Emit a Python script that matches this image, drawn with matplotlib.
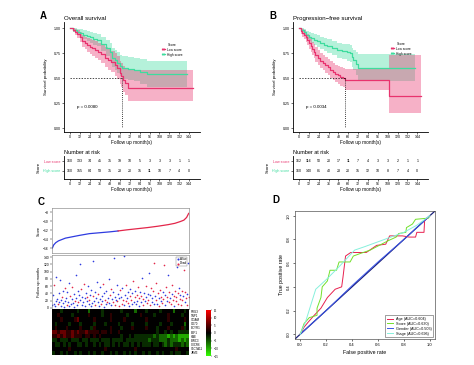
import numpy as np
import matplotlib
matplotlib.use("Agg")
import matplotlib.pyplot as plt
from matplotlib.colors import LinearSegmentedColormap
from matplotlib.patches import Patch
from matplotlib.lines import Line2D

plt.rcParams['font.family'] = ['Liberation Sans', 'DejaVu Sans']

# ---------------- data ----------------
months = [0, 12, 24, 36, 48, 60, 72, 84, 96, 108, 120, 132, 144]

# panel A - overall survival (step curves + 95% CI)
lowA_t = [0, 3, 6, 9, 12, 15, 18, 21, 24, 27, 30, 34, 38, 42, 46, 50, 54, 57, 60, 62, 64, 66, 70, 148]
lowA_s = [1.0, 0.98, 0.96, 0.94, 0.91, 0.87, 0.85, 0.83, 0.81, 0.80, 0.78, 0.76, 0.74, 0.70, 0.68, 0.66, 0.63, 0.60, 0.55, 0.52, 0.48, 0.45, 0.40, 0.40]
lowA_lo = [1.0, 0.96, 0.93, 0.90, 0.86, 0.81, 0.79, 0.76, 0.74, 0.72, 0.70, 0.68, 0.65, 0.61, 0.58, 0.56, 0.52, 0.49, 0.44, 0.41, 0.36, 0.33, 0.27, 0.27]
lowA_hi = [1.0, 1.0, 0.99, 0.98, 0.96, 0.93, 0.91, 0.90, 0.89, 0.88, 0.87, 0.85, 0.84, 0.81, 0.79, 0.77, 0.75, 0.72, 0.67, 0.65, 0.62, 0.60, 0.58, 0.58]
highA_t = [0, 4, 8, 12, 16, 20, 24, 28, 32, 38, 44, 48, 51, 54, 57, 60, 63, 70, 77, 85, 93, 141]
highA_s = [1.0, 0.98, 0.96, 0.95, 0.93, 0.92, 0.91, 0.89, 0.88, 0.84, 0.80, 0.76, 0.70, 0.68, 0.65, 0.62, 0.60, 0.59, 0.58, 0.56, 0.54, 0.54]
highA_lo = [1.0, 0.96, 0.93, 0.91, 0.89, 0.87, 0.85, 0.83, 0.82, 0.77, 0.72, 0.68, 0.61, 0.58, 0.55, 0.52, 0.49, 0.48, 0.47, 0.44, 0.41, 0.41]
highA_hi = [1.0, 1.0, 0.99, 0.99, 0.98, 0.97, 0.96, 0.95, 0.94, 0.91, 0.88, 0.85, 0.80, 0.78, 0.76, 0.73, 0.72, 0.71, 0.70, 0.69, 0.67, 0.67]
riskA_low = [160, 133, 74, 45, 35, 19, 10, 5, 3, 3, 3, 1, 1]
riskA_high = [160, 155, 84, 53, 35, 23, 20, 15, 11, 10, 7, 4, 0]

# panel B - progression-free survival
lowB_t = [0, 2, 4, 6, 8, 10, 12, 14, 16, 18, 20, 23, 26, 29, 32, 35, 38, 41, 44, 47, 50, 53, 56, 110, 149]
lowB_s = [1.0, 0.97, 0.95, 0.93, 0.91, 0.88, 0.85, 0.82, 0.79, 0.76, 0.73, 0.70, 0.67, 0.65, 0.63, 0.61, 0.58, 0.56, 0.54, 0.53, 0.51, 0.50, 0.48, 0.32, 0.32]
lowB_lo = [1.0, 0.94, 0.91, 0.89, 0.86, 0.83, 0.79, 0.76, 0.73, 0.70, 0.66, 0.63, 0.60, 0.58, 0.55, 0.53, 0.50, 0.48, 0.46, 0.44, 0.42, 0.41, 0.38, 0.15, 0.15]
lowB_hi = [1.0, 1.0, 0.99, 0.98, 0.96, 0.94, 0.91, 0.89, 0.86, 0.84, 0.81, 0.78, 0.75, 0.73, 0.71, 0.69, 0.67, 0.65, 0.63, 0.62, 0.61, 0.60, 0.59, 0.73, 0.73]
highB_t = [0, 3, 6, 9, 12, 15, 18, 22, 26, 30, 34, 40, 46, 52, 58, 62, 64, 66, 69, 72, 141]
highB_s = [1.0, 0.98, 0.96, 0.93, 0.91, 0.90, 0.88, 0.87, 0.85, 0.83, 0.82, 0.80, 0.78, 0.77, 0.76, 0.75, 0.71, 0.68, 0.64, 0.60, 0.60]
highB_lo = [1.0, 0.96, 0.93, 0.89, 0.87, 0.85, 0.83, 0.81, 0.79, 0.77, 0.75, 0.73, 0.70, 0.69, 0.67, 0.66, 0.61, 0.58, 0.53, 0.47, 0.47]
highB_hi = [1.0, 1.0, 0.99, 0.97, 0.96, 0.95, 0.94, 0.93, 0.91, 0.90, 0.89, 0.87, 0.85, 0.84, 0.84, 0.83, 0.80, 0.78, 0.76, 0.74, 0.74]
riskB_low = [162, 116, 50, 20, 17, 11, 7, 4, 3, 3, 2, 1, 1]
riskB_high = [160, 140, 81, 40, 23, 20, 15, 12, 10, 8, 7, 4, 0]

# panel C - risk score curve (rank position -> score)
score_pos_low = [1, 3, 6, 10, 15, 20, 30, 40, 55, 70, 85, 97]
score_val_low = [-16.0, -15.3, -14.8, -14.4, -14.1, -13.8, -13.5, -13.2, -12.8, -12.6, -12.4, -12.2]
score_pos_high = [97, 110, 125, 140, 155, 170, 180, 188, 193, 197, 200]
score_val_high = [-12.2, -11.95, -11.7, -11.45, -11.15, -10.8, -10.5, -10.1, -9.8, -9.2, -8.3]

# panel C - follow-up time per patient and status (a = alive, d = dead)
follow_up = [
    8, 35, 12, 62, 4, 18, 85, 25, 10, 40, 15, 78, 22, 6, 30, 48, 14, 3, 55, 20,
    27, 9, 44, 16, 70, 5, 33, 11, 24, 58, 13, 38, 2, 19, 90, 28, 7, 46, 17, 36,
    120, 21, 52, 8, 31, 15, 66, 26, 4, 42, 18, 29, 60, 11, 23, 37, 6, 50, 14, 32,
    130, 19, 45, 9, 27, 72, 16, 39, 5, 24, 57, 12, 34, 20, 65, 3, 41, 22, 10, 47,
    17, 28, 80, 13, 35, 7, 53, 25, 43, 15, 138, 30, 9, 21, 62, 18, 38, 26, 4, 49,
    31, 12, 56, 23, 8, 142, 36, 19, 64, 27, 14, 44, 6, 33, 52, 22, 10, 40, 75, 16,
    29, 48, 11, 37, 20, 58, 5, 26, 45, 15, 34, 83, 24, 9, 42, 18, 61, 30, 13, 39,
    22, 97, 7, 35, 54, 17, 28, 46, 12, 125, 33, 21, 68, 10, 40, 26, 5, 50, 19, 31,
    14, 43, 24, 118, 36, 8, 59, 20, 30, 92, 16, 45, 27, 11, 38, 63, 22, 6, 34, 47,
    18, 29, 113, 41, 12, 55, 25, 35, 9, 48, 21, 32, 105, 15, 44, 27, 38, 7, 124, 30,
]
status = ("aaadaaaadaaaaadaaada" "adaaaadaadaaadaaaada" "aadaaadaaaadaadaaaad"
          "aaadaaadaaadaadaadaa" "daaadadaadaadaadaadd" "adadaaaddadaadadaada"
          "daadadadaadaddaadada" "dadadaadadaddadaddad" "daddaadadaddadaddadd"
          "ddaddadadddadaddadad")

# panel C - heatmap, each digit is a level
genes = ["PRG3", "TNP1", "ITGAM", "CD70", "BCYR1", "LEF1", "HAE", "BIRC3", "CXCR6", "SLC7A11", "JAM3"]
heat_levels = [-15, -10, -6, -2.5, 0, 2.5, 6, 10, 15]
heat_rows = [
    "4443444443 4442444434 4444434444 2444344443 4444244434",
    "4454444344 4445444434 4544444344 4454444344 4454444344",
    "4445444456 4444454444 4544445444 4444544444 4454444454",
    "4344443444 3444434443 4444344443 4444344443 4443444424",
    "4544454444 5444354444 4544434445 4444544434 4454444534",
    "6656655656 5565555455 4544544444 4444444434 4343443333",
    "5565655655 5455454544 4444434434 3333333232 2212121111",
    "3343334333 4334333433 3433334333 3333323332 2232221212",
    "4334343443 3434434343 3434343343 4343334334 3232333232",
    "4444445444 4444444445 4444444444 5444444444 4444454444",
    "3443434434 3443434434 4343443434 3443434434 3443433443",
]

# panel D - ROC curves
age_fpr = [0, 0.03, 0.06, 0.10, 0.16, 0.21, 0.27, 0.32, 0.33, 0.35, 0.39, 0.51, 0.59, 0.66, 0.69, 0.79, 0.84, 0.89, 0.90, 0.955, 0.96, 1.0]
age_tpr = [0, 0.06, 0.10, 0.15, 0.22, 0.31, 0.38, 0.40, 0.48, 0.66, 0.69, 0.69, 0.75, 0.76, 0.83, 0.83, 0.82, 0.82, 0.86, 0.86, 0.96, 1.0]
score_fpr = [0, 0.03, 0.07, 0.13, 0.13, 0.16, 0.17, 0.21, 0.23, 0.28, 0.30, 0.385, 0.41, 0.46, 0.54, 0.61, 0.68, 0.74, 0.76, 0.815, 0.82, 0.866, 0.89, 0.99, 1.0]
score_tpr = [0, 0.09, 0.14, 0.16, 0.22, 0.31, 0.40, 0.45, 0.54, 0.54, 0.61, 0.61, 0.66, 0.68, 0.71, 0.75, 0.79, 0.82, 0.85, 0.86, 0.90, 0.93, 0.97, 0.98, 1.0]
gender_fpr = [0, 0.2, 0.4, 0.6, 0.8, 1.0]
gender_tpr = [0, 0.2, 0.41, 0.61, 0.8, 1.0]
stage_fpr = [0, 0.04, 0.12, 0.20, 0.30, 0.42, 0.50, 0.60, 0.70, 0.80, 0.90, 1.0]
stage_tpr = [0, 0.10, 0.38, 0.46, 0.57, 0.71, 0.74, 0.78, 0.82, 0.86, 0.92, 1.0]

# ---------------- figure ----------------
W, H = 474, 365
fig = plt.figure(figsize=(W / 100, H / 100), dpi=100)
fig.patch.set_facecolor("white")

LOW = "#E8336E"
HIGH = "#3EDC9E"
TK = 2.6


def axpx(x0, y0, x1, y1):
    return fig.add_axes([x0 / W, 1 - y1 / H, (x1 - x0) / W, (y1 - y0) / H])


def classic(ax):
    for s in ["top", "right"]:
        ax.spines[s].set_visible(False)
    for s in ["left", "bottom"]:
        ax.spines[s].set_linewidth(0.6)
    ax.tick_params(labelsize=TK, length=1.5, width=0.4, pad=1)


def km_panel(x0, x1, letter, title, low, high, med, ptxt, risk_low, risk_high, leg_xy):
    ax = axpx(x0, 22, x1, 132)
    for (t, s, lo, hi), col in [(high, HIGH), (low, LOW)]:
        ax.fill_between(t, lo, hi, step="post", color=col, alpha=0.38, lw=0)
    for (t, s, lo, hi), col in [(high, HIGH), (low, LOW)]:
        ax.step(t, s, where="post", color=col, lw=0.9)
    ax.plot([0, med], [0.5, 0.5], ls=(0, (2, 2)), color="black", lw=0.5)
    ax.plot([med, med], [0.5, 0], ls=(0, (1, 1.5)), color="black", lw=0.6)
    ax.set_xlim(-7.3, 157)
    ax.set_ylim(-0.04, 1.06)
    ax.set_xticks(months)
    ax.set_yticks([0, 0.25, 0.5, 0.75, 1.0])
    ax.set_yticklabels(["0.00", "0.25", "0.50", "0.75", "1.00"])
    classic(ax)
    ax.set_xlabel("Follow up month(s)", fontsize=3.4, labelpad=0.5)
    ax.set_ylabel("Survival probability", fontsize=3.2, labelpad=4)
    ax.set_title(title, fontsize=4.4, loc="left", pad=1.5, x=0.0)
    ax.text(8, 0.2, ptxt, fontsize=3.2)
    handles = [(Patch(color=LOW, alpha=0.38, lw=0), Line2D([], [], color=LOW, lw=0.9)),
               (Patch(color=HIGH, alpha=0.38, lw=0), Line2D([], [], color=HIGH, lw=0.9))]
    fig.legend(handles, ["Low score", "High score"], title="Score", loc="upper left",
               bbox_to_anchor=(leg_xy[0] / W, 1 - leg_xy[1] / H), frameon=False,
               fontsize=2.3, title_fontsize=2.4, handlelength=1.2, handleheight=0.9,
               labelspacing=0.3, borderpad=0, handletextpad=0.5)
    fig.text((x0 - 24) / W, 1 - 15.7 / H, letter, fontsize=7, weight="bold", va="center")

    rt = axpx(x0, 156, x1, 179)
    for m, a, b in zip(months, risk_low, risk_high):
        rt.text(m, 0.78, str(a), fontsize=TK, ha="center", va="center")
        rt.text(m, 0.35, str(b), fontsize=TK, ha="center", va="center")
    rt.set_xlim(-7.3, 157)
    rt.set_ylim(0, 1)
    rt.set_xticks(months)
    rt.set_yticks([0.78, 0.35])
    rt.set_yticklabels(["Low score", "High score"])
    for lab, col in zip(rt.get_yticklabels(), [LOW, HIGH]):
        lab.set_color(col)
    classic(rt)
    rt.set_xlabel("Follow up month(s)", fontsize=3.4, labelpad=0.5)
    rt.set_ylabel("Score", fontsize=3.2, labelpad=1.5)
    rt.set_title("Number at risk", fontsize=4.0, loc="left", pad=1.5)


km_panel(64, 200, "A", "Overall survival",
         (lowA_t, lowA_s, lowA_lo, lowA_hi), (highA_t, highA_s, highA_lo, highA_hi),
         63, "p = 0.0080", riskA_low, riskA_high, (160, 41))
km_panel(293, 428, "B", "Progression\u2212free survival",
         (lowB_t, lowB_s, lowB_lo, lowB_hi), (highB_t, highB_s, highB_lo, highB_hi),
         56, "p = 0.0034", riskB_low, riskB_high, (389, 40))

# ---- panel C ----
BLUE = "#2E3BE0"
RED = "#E3264A"
N = len(follow_up)
fig.text(38 / W, 1 - 202 / H, "C", fontsize=7, weight="bold", va="center")

a1 = axpx(52, 208, 189, 253)
a1.plot(score_pos_low, score_val_low, color=BLUE, lw=0.9)
a1.plot(score_pos_high, score_val_high, color=RED, lw=0.9)
a1.set_xlim(0.5, N + 0.5)
a1.set_ylim(-17.1, -7.1)
a1.set_xticks([])
a1.set_yticks([-8, -10, -12, -14, -16])
a1.tick_params(labelsize=2.4, length=1.2, width=0.3, pad=1)
a1.set_ylabel("Score", fontsize=2.8, labelpad=2)
for s in a1.spines.values():
    s.set_linewidth(0.4)
    s.set_color("#777777")

a2 = axpx(52, 255, 189, 309)
xs = np.arange(1, N + 1)
alive = np.array([c == "a" for c in status])
fu = np.array(follow_up)
a2.scatter(xs[alive], fu[alive], s=1.4, color=BLUE, lw=0, label="Alive")
a2.scatter(xs[~alive], fu[~alive], s=1.4, color=RED, lw=0, label="Dead")
a2.set_xlim(0.5, N + 0.5)
a2.set_ylim(-3, 146)
a2.set_xticks([])
a2.set_yticks(range(0, 141, 20))
a2.tick_params(labelsize=2.4, length=1.2, width=0.3, pad=1)
a2.set_ylabel("Follow up months", fontsize=2.8, labelpad=2)
for s in a2.spines.values():
    s.set_linewidth(0.4)
    s.set_color("#777777")
lg = a2.legend(loc="upper right", fontsize=2.2, markerscale=1.3, handletextpad=0.1,
               borderpad=0.2, labelspacing=0.1, handlelength=0.8, framealpha=1,
               fancybox=False, edgecolor="#777777")
lg.get_frame().set_linewidth(0.3)

heat = np.array([[heat_levels[int(c)] for c in r.replace(" ", "")] for r in heat_rows])
cmap = LinearSegmentedColormap.from_list("gkr", ["#33FF00", "#000000", "#FF0000"])
a3 = axpx(52, 309, 189, 355)
a3.imshow(heat, aspect="auto", cmap=cmap, vmin=-15, vmax=15, interpolation="nearest")
a3.set_xticks([])
a3.yaxis.tick_right()
a3.set_yticks(range(len(genes)))
a3.set_yticklabels(genes)
a3.tick_params(labelsize=2.1, length=0, pad=1.5)
for s in a3.spines.values():
    s.set_visible(False)

cb = axpx(206, 310, 211, 356)
grad = np.linspace(-15, 15, 256).reshape(-1, 1)
cb.imshow(grad, aspect="auto", cmap=cmap, origin="lower", extent=(0, 1, -15, 15))
cb.set_xticks([])
cb.yaxis.tick_right()
cb.set_yticks([15, 10, 5, 0, -5, -10, -15])
cb.tick_params(labelsize=2.1, length=0.8, width=0.3, pad=1)
for s in cb.spines.values():
    s.set_visible(False)

# ---- panel D ----
fig.text(272 / W, 1 - 200 / H, "D", fontsize=7, weight="bold", va="center")
ad = axpx(295, 211, 435, 339)
ad.plot([-0.04, 1.04], [-0.04, 1.04], color="#1B1F7A", lw=0.9)
ad.plot(age_fpr, age_tpr, color="#E8204F", lw=0.7, label="Age (AUC=0.604)")
ad.plot(score_fpr, score_tpr, color="#72E02A", lw=0.7, label="Score (AUC=0.630)")
ad.plot(gender_fpr, gender_tpr, color="#3A55E8", lw=0.7, label="Gender (AUC=0.503)")
ad.plot(stage_fpr, stage_tpr, color="#86F0DC", lw=0.7, label="Stage (AUC=0.696)")
ad.set_xlim(-0.04, 1.04)
ad.set_ylim(-0.04, 1.04)
ticks = [0, 0.2, 0.4, 0.6, 0.8, 1.0]
ad.set_xticks(ticks)
ad.set_yticks(ticks)
ad.set_xticklabels([f"{t:.1f}" for t in ticks])
ad.set_yticklabels([f"{t:.1f}" for t in ticks], rotation=90, va="center")
ad.tick_params(labelsize=3, length=1.5, width=0.4, pad=1.5)
for s in ad.spines.values():
    s.set_linewidth(0.5)
    s.set_color("#555555")
ad.set_xlabel("False positive rate", fontsize=3.8, labelpad=2)
ad.set_ylabel("True positive rate", fontsize=3.8, labelpad=2)
lg = ad.legend(loc="lower right", fontsize=2.7, handlelength=1.6, borderpad=0.4,
               labelspacing=0.25, fancybox=False, edgecolor="#555555", framealpha=1)
lg.get_frame().set_linewidth(0.4)

fig.savefig("out.png", dpi=100)
